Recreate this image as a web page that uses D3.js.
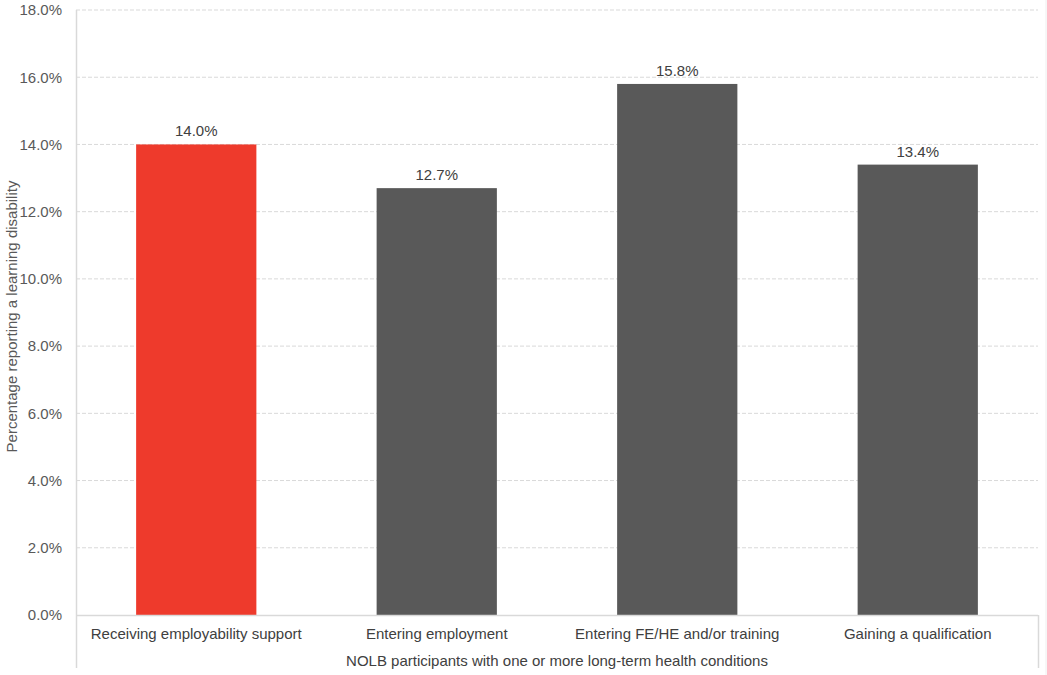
<!DOCTYPE html>
<html><head><meta charset="utf-8">
<script src="https://cdn.jsdelivr.net/npm/d3@7"></script>
<style>body{margin:0;background:#fff;}svg{display:block;font-family:"Liberation Sans",Arial,sans-serif;}</style>
</head><body>
<svg id="c" width="1047" height="675"></svg>
<script>
const categories = ["Receiving employability support","Entering employment","Entering FE/HE and/or training","Gaining a qualification"];
const values = [14.0, 12.7, 15.8, 13.4];
const barColors = ["#EE3A2C","#595959","#595959","#595959"];
const yTicks = [0,2,4,6,8,10,12,14,16,18];
const yTitle = "Percentage reporting a learning disability";
const xTitle = "NOLB participants with one or more long-term health conditions";

const svg = d3.select("#c");
const L = 76, R = 1038, T = 10, B = 615;
const FS = 15;
const x = d3.scaleBand().domain(categories).range([L, R]).paddingInner(0.5).paddingOuter(0.25);
const y = d3.scaleLinear().domain([0, 18]).range([B, T]);

// border line at right
svg.append("line").attr("x1",1046).attr("x2",1046).attr("y1",0).attr("y2",675).attr("stroke","#eeeeee");

// gridlines
svg.append("g").selectAll("line").data(yTicks.filter(d=>d>0)).join("line")
  .attr("x1", L).attr("x2", R).attr("y1", d=>y(d)).attr("y2", d=>y(d))
  .attr("stroke","#d9d9d9").attr("stroke-dasharray","4,2").attr("stroke-width",1);

// y axis labels
const yAxis = d3.axisLeft(y).tickValues(yTicks).tickFormat(d=>d.toFixed(1)+"%").tickSize(0).tickPadding(14);
const ga = svg.append("g").attr("transform",`translate(${L},0)`).call(yAxis);
ga.select(".domain").remove();
ga.selectAll("text").attr("font-size",FS).attr("fill","#595959").attr("font-family","Liberation Sans, Arial, sans-serif");

// bars
svg.append("g").selectAll("rect").data(values).join("rect")
  .attr("x",(d,i)=>x(categories[i])).attr("width",x.bandwidth())
  .attr("y",d=>y(d)).attr("height",d=>B-y(d)).attr("fill",(d,i)=>barColors[i]);

// value labels
svg.append("g").selectAll("text").data(values).join("text")
  .attr("x",(d,i)=>x(categories[i])+x.bandwidth()/2).attr("y",d=>y(d)-8)
  .attr("text-anchor","middle").attr("font-size",FS).attr("fill","#404040")
  .text(d=>d.toFixed(1)+"%");

// axis lines
svg.append("line").attr("x1",L).attr("x2",R).attr("y1",B+0.5).attr("y2",B+0.5).attr("stroke","#d9d9d9").attr("stroke-width",1.5);
svg.append("line").attr("x1",L+0.5).attr("x2",L+0.5).attr("y1",T).attr("y2",668).attr("stroke","#d9d9d9").attr("stroke-width",1.5);
svg.append("line").attr("x1",R+0.5).attr("x2",R+0.5).attr("y1",B).attr("y2",668).attr("stroke","#d9d9d9").attr("stroke-width",1.5);

// category labels
const xAxis = d3.axisBottom(x).tickSize(0).tickPadding(13);
const gx = svg.append("g").attr("transform",`translate(0,${B})`).call(xAxis);
gx.select(".domain").remove();
gx.selectAll("text").attr("font-size",FS).attr("fill","#404040").attr("font-family","Liberation Sans, Arial, sans-serif");

// axis titles
svg.append("text").attr("x",(L+R)/2).attr("y",666).attr("text-anchor","middle")
  .attr("font-size",FS).attr("fill","#404040").text(xTitle);
svg.append("text").attr("transform",`translate(17,${(T+B)/2+4}) rotate(-90)`).attr("text-anchor","middle")
  .attr("font-size",FS).attr("fill","#595959").text(yTitle);
</script>
</body></html>
